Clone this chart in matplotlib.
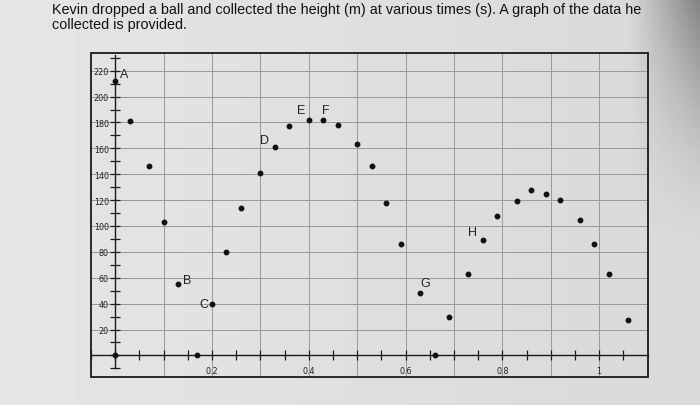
import numpy as np
import matplotlib
matplotlib.use("Agg")
import matplotlib.pyplot as plt
from matplotlib.patches import Rectangle

# ---- data ----
times = [0.00, 0.00, 0.03, 0.07, 0.10, 0.13, 0.17, 0.20, 0.23, 0.26, 0.30, 0.33,
         0.36, 0.40, 0.43, 0.46, 0.50, 0.53, 0.56, 0.59, 0.63, 0.66, 0.69,
         0.73, 0.76, 0.79, 0.83, 0.86, 0.89, 0.92, 0.96, 0.99, 1.02, 1.06]
heights = [0, 212, 181, 146, 103, 55, 0, 40, 80, 114, 141, 161,
           177, 182, 182, 178, 163, 146, 118, 86, 48, 0, 30,
           63, 89, 108, 119, 128, 125, 120, 105, 86, 63, 27]
point_labels = {1: "A", 5: "B", 7: "C", 11: "D", 13: "E", 14: "F", 20: "G", 24: "H"}
label_offsets = {"A": (9, 7), "B": (9, 4), "C": (-8, 0), "D": (-10, 7),
                 "E": (-8, 10), "F": (3, 10), "G": (5, 10), "H": (-10, 8)}
x_major = [0.2, 0.4, 0.6, 0.8, 1.0]
x_major_labels = ["0.2", "0.4", "0.6", "0.8", "1"]
y_major = [20, 40, 60, 80, 100, 120, 140, 160, 180, 200, 220]
title = ("Kevin dropped a ball and collected the height (m) at various times (s). "
         "A graph of the data he\ncollected is provided.")

fig = plt.figure(figsize=(7.0, 4.06), dpi=100)
fig.patch.set_facecolor("#dedede")

# background paper shading
bg = fig.add_axes([0, 0, 1, 1], zorder=-5)
gx = np.linspace(0, 1, 200)
gy = np.linspace(0, 1, 100)
GX, GY = np.meshgrid(gx, gy)
shade = 0.90 - 0.05 * GX - 0.33 * np.clip((GX - 0.90) / 0.10, 0, 1) * np.clip((GY - 0.4) / 0.6, 0, 1) ** 1.5
bg.imshow(shade, cmap="gray", vmin=0, vmax=1, aspect="auto", extent=[0, 1, 0, 1], origin="lower")
bg.set_axis_off()

fig.text(0.074, 0.993, title, ha="left", va="top", fontsize=10.4,
         family=["Liberation Sans", "DejaVu Sans"], color="#111111", linespacing=1.08)

ax = fig.add_axes([0.130, 0.068, 0.795, 0.8])
ax.set_facecolor("none")
ax.set_xlim(-0.05, 1.10)
ax.set_ylim(-17, 234)

# grid
for gxv in np.arange(0.1, 1.05, 0.1):
    ax.axvline(gxv, color="#999999", lw=0.7, zorder=1)
for gyv in y_major:
    ax.axhline(gyv, color="#999999", lw=0.7, zorder=1)

# frame
ax.add_patch(Rectangle((0, 0), 1, 1, transform=ax.transAxes, fill=False,
                       lw=1.3, edgecolor="#1a1a1a", zorder=5, clip_on=False))

# axes through origin
for s in ["top", "right"]:
    ax.spines[s].set_visible(False)
ax.spines["left"].set_position(("data", 0))
ax.spines["bottom"].set_position(("data", 0))
ax.spines["left"].set_bounds(-10, 232)
ax.spines["bottom"].set_bounds(-0.05, 1.10)
for s in ["left", "bottom"]:
    ax.spines[s].set_linewidth(1.0)
    ax.spines[s].set_color("#1a1a1a")

ax.set_xticks(x_major)
ax.set_xticklabels(x_major_labels)
ax.set_xticks(np.arange(-0.05, 1.06, 0.05), minor=True)
ax.set_yticks(y_major)
ax.set_yticks(np.arange(-10, 231, 10), minor=True)
ax.tick_params(which="both", direction="inout", color="#1a1a1a", width=0.9)
ax.tick_params(which="major", length=7, labelsize=5.8, labelcolor="#222222", pad=1)
ax.tick_params(which="minor", length=7)
ax.tick_params(axis="x", pad=4)

ax.plot(times, heights, "o", color="#111111", ms=3.2, zorder=6, clip_on=False)

for i, lab in point_labels.items():
    dx, dy = label_offsets[lab]
    ax.annotate(lab, (times[i], heights[i]), xytext=(dx, dy), textcoords="offset pixels",
                ha="center", va="center", fontsize=9, color="#222222",
                family=["Liberation Sans", "DejaVu Sans"], zorder=7)

fig.savefig("out.png", dpi=100)
